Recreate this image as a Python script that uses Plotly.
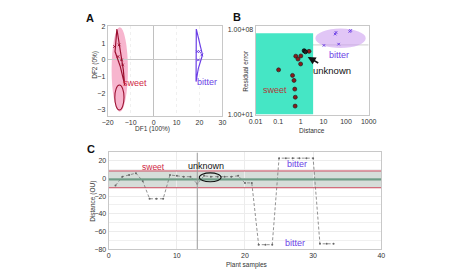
import plotly.graph_objects as go

FONT = "Liberation Sans, Arial, sans-serif"
RED = "#d02a46"
PURPLE = "#6b3fe6"
W, H = 474, 279

# ---------- Panel A data ----------
sweet_poly_x = [-16, -14.8, -13.2, -12.6, -14.5, -16.8, -16]
sweet_poly_y = [1.85, 0.7, -0.6, -1.5, -0.4, 0.5, 1.85]
sweet_pts_x = [-17, -15, -15.5, -14, -13.5]
sweet_pts_y = [0.8, 0.9, 0.2, 0.0, -0.3]
bitter_poly_x = [18.6, 20.2, 21.3, 19.5, 18.5, 18.6]
bitter_poly_y = [1.85, 1.0, 0.3, -0.5, -1.3, 1.85]
bitter_pts_x = [19, 20, 19.5, 21]
bitter_pts_y = [0.5, 0.5, 0.0, 0.3]

# ---------- Panel B data ----------
sweet_dist = [0.104, 0.6, 0.75, 1.0, 0.98, 2.3, 0.43, 0.5, 0.54, 0.57, 0.56]
sweet_err = [4.9e4, 6.6e5, 3.8e5, 6.9e5, 1.5e5, 1.66e6, 1.7e4, 6.6e3, 1.26e3, 2.7e2, 50]
unknown_dist = [1.4, 1.6]
unknown_err = [1.86e6, 1.5e6]
bitter_dist = [10.5, 33, 36, 47, 146, 160]
bitter_err = [5.1e6, 4.4e7, 6.0e7, 6.5e6, 7.2e7, 8.7e7]

# ---------- Panel C data ----------
samples = list(range(1, 34))
distance = [-8, 2, 4, 6, -3, -23, -23, -23, 4, 3, 2, 2, -6, 3, 2, 2, 2, 2, 3, -5, -5,
            -75, -75, -75, 23, 23, 23, 23, 23, 23, -74, -74, -74]
band_upper, band_lower, band_center = 8.5, -10.5, -1

fig = go.Figure()

# Panel A traces
fig.add_trace(go.Scatter(x=sweet_poly_x, y=sweet_poly_y, mode="lines",
                         line=dict(color="#9b1030", width=1.2), xaxis="x", yaxis="y"))
fig.add_trace(go.Scatter(x=sweet_pts_x, y=sweet_pts_y, mode="markers",
                         marker=dict(color="#9b1030", size=2.5, symbol="x-thin",
                                     line=dict(color="#9b1030", width=1)), xaxis="x", yaxis="y"))
fig.add_trace(go.Scatter(x=bitter_poly_x, y=bitter_poly_y, mode="lines",
                         line=dict(color=PURPLE, width=1.2), xaxis="x", yaxis="y"))
fig.add_trace(go.Scatter(x=bitter_pts_x, y=bitter_pts_y, mode="markers",
                         marker=dict(color=PURPLE, size=2.5, symbol="x-thin",
                                     line=dict(color=PURPLE, width=1)), xaxis="x", yaxis="y"))

# Panel B traces
fig.add_trace(go.Scatter(x=sweet_dist, y=sweet_err, mode="markers",
                         marker=dict(color="#8c1a1a", size=4, line=dict(color="#222", width=0.7)),
                         xaxis="x2", yaxis="y2"))
fig.add_trace(go.Scatter(x=unknown_dist, y=unknown_err, mode="markers",
                         marker=dict(color="#222", size=4, line=dict(color="#000", width=0.7)),
                         xaxis="x2", yaxis="y2"))
fig.add_trace(go.Scatter(x=bitter_dist, y=bitter_err, mode="markers",
                         marker=dict(color=PURPLE, size=2.5, symbol="x-thin",
                                     line=dict(color=PURPLE, width=1)),
                         xaxis="x2", yaxis="y2"))

# Panel C trace
fig.add_trace(go.Scatter(x=samples, y=distance, mode="lines+markers",
                         line=dict(color="#777", width=0.8, dash="3px,2px"),
                         marker=dict(color="#666", size=2),
                         xaxis="x3", yaxis="y3"))

shapes = [
    # Panel A
    dict(type="circle", xref="x", yref="y", x0=-18.3, x1=-11.2, y0=-3.1, y1=1.95,
         fillcolor="rgba(240,120,165,0.55)", line=dict(width=0), layer="below"),
    dict(type="circle", xref="x", yref="y", x0=-16.9, x1=-12.9, y0=-3.0, y1=-1.5,
         line=dict(color="#9b1030", width=1.1)),
    # Panel B
    dict(type="line", xref="x2", yref="y2", x0=0.01, x1=1000, y0=5.6e6, y1=5.6e6,
         line=dict(color="#cfcfcf", width=1), layer="below"),
    dict(type="rect", xref="x2", yref="y2", x0=0.01, x1=3.5, y0=10, y1=5.2e7,
         fillcolor="#45e6c5", line=dict(width=0), layer="below"),
    dict(type="circle", xref="x2", yref="y2", x0=4.4, x1=740, y0=3.1e6, y1=1.26e8,
         fillcolor="rgba(205,160,240,0.6)", line=dict(width=0), layer="below"),
    # Panel C
    dict(type="rect", xref="x3", yref="y3", x0=0, x1=40, y0=band_lower, y1=band_upper,
         fillcolor="#d6ddd9", line=dict(width=0), layer="below"),
    dict(type="line", xref="x3", yref="y3", x0=0, x1=40, y0=band_upper, y1=band_upper,
         line=dict(color="#c8465a", width=1)),
    dict(type="line", xref="x3", yref="y3", x0=0, x1=40, y0=band_lower, y1=band_lower,
         line=dict(color="#c8465a", width=1)),
    dict(type="line", xref="x3", yref="y3", x0=0, x1=40, y0=band_center, y1=band_center,
         line=dict(color="#6f9c86", width=2.2)),
    dict(type="line", xref="x3", yref="y3", x0=13, x1=13, y0=-80, y1=29.5,
         line=dict(color="#9a9a9a", width=1)),
    dict(type="circle", xref="x3", yref="y3", x0=13.3, x1=16.5, y0=-3.7, y1=6.3,
         line=dict(color="#111", width=1.1)),
]

def px2paper(px, py):
    return px / W, 1 - py / H

annotations = []

def add_text(text, px, py, size=7, color="#333", angle=0, bold=False):
    x, y = px2paper(px, py)
    annotations.append(dict(text=f"<b>{text}</b>" if bold else text, x=x, y=y,
                            xref="paper", yref="paper", showarrow=False,
                            font=dict(size=size, color=color, family=FONT),
                            textangle=angle, xanchor="center", yanchor="middle"))

add_text("A", 86, 15, 11, "#111", bold=True)
add_text("B", 238, 14, 11, "#111", bold=True)
add_text("C", 87, 149, 11, "#111", bold=True)
add_text("DF2 (0%)", 90, 63, 6.5, "#333", angle=-90)
add_text("DF1 (100%)", 150, 129, 6.5, "#333")
add_text("Residual error", 246, 69, 6.5, "#333", angle=-90)
add_text("Distance", 315, 130, 6.5, "#333")
add_text("Distance (OU)", 88, 203, 6.5, "#333", angle=-90)
add_text("Plant samples", 248, 268, 6.5, "#333")

# in-plot labels
annotations += [
    dict(text="sweet", x=-8.2, y=-1.36, xref="x", yref="y", showarrow=False,
         font=dict(size=9, color=RED, family=FONT)),
    dict(text="bitter", x=23.2, y=-1.34, xref="x", yref="y", showarrow=False,
         font=dict(size=9, color=PURPLE, family=FONT)),
    dict(text="bitter", x=1.685, y=5.9, xref="x2", yref="y2", showarrow=False,
         font=dict(size=9, color=PURPLE, family=FONT)),
    dict(text="sweet", x=-1.14, y=3.0, xref="x2", yref="y2", showarrow=False,
         font=dict(size=9, color="#b03a3a", family=FONT)),
    dict(text="unknown", x=1.40, y=4.63, xref="x2", yref="y2", showarrow=False,
         font=dict(size=9.5, color="#111", family=FONT)),
    dict(text="", x=0.305, y=5.76, xref="x2", yref="y2", showarrow=True,
         ax=12, ay=7, arrowhead=2, arrowsize=1, arrowwidth=1.6, arrowcolor="#111"),
    dict(text="sweet", x=6.6, y=12.6, xref="x3", yref="y3", showarrow=False,
         font=dict(size=8.5, color=RED, family=FONT)),
    dict(text="unknown", x=14.3, y=14.4, xref="x3", yref="y3", showarrow=False,
         font=dict(size=9, color="#111", family=FONT)),
    dict(text="bitter", x=27.7, y=16.7, xref="x3", yref="y3", showarrow=False,
         font=dict(size=9, color=PURPLE, family=FONT)),
    dict(text="bitter", x=27.4, y=-73.3, xref="x3", yref="y3", showarrow=False,
         font=dict(size=9, color=PURPLE, family=FONT)),
]

tickfont = dict(size=7, color="#333", family=FONT)
frame = dict(showline=True, mirror=True, linecolor="#c8c8c8", linewidth=1,
             ticks="", tickfont=tickfont)

fig.update_layout(
    width=W, height=H, margin=dict(l=0, r=0, t=0, b=0),
    paper_bgcolor="white", plot_bgcolor="white", showlegend=False,
    font=dict(family=FONT),
    shapes=shapes, annotations=annotations,
    xaxis=dict(domain=[104 / W, 222.5 / W], range=[-20, 30], tickvals=[-20, -10, 0, 10, 20, 30],
               showgrid=True, gridcolor="#f0f0f0", griddash="dot",
               zeroline=True, zerolinecolor="#c0c0c0", zerolinewidth=1,
               anchor="y", **frame),
    yaxis=dict(domain=[1 - 115 / H, 1 - 23 / H], range=[-3.33, 2.06], tickvals=[-3, -2, -1, 0, 1, 2],
               showgrid=False, zeroline=True, zerolinecolor="#c8c8c8", zerolinewidth=1,
               anchor="x", **frame),
    xaxis2=dict(domain=[256.7 / W, 373.5 / W], type="log", range=[-2, 3],
                tickvals=[0.01, 0.1, 1, 10, 100, 1000],
                ticktext=["0.01", "0.1", "1", "10", "100", "1000"],
                showgrid=False, zeroline=False, anchor="y2", **frame),
    yaxis2=dict(domain=[1 - 114 / H, 1 - 24 / H], type="log", range=[1, 8.27],
                tickvals=[10, 1e8], ticktext=["1.00+01", "1.00+08"],
                showgrid=False, zeroline=False, anchor="x2", **frame),
    xaxis3=dict(domain=[105 / W, 386.5 / W], range=[0, 40], tickvals=[0, 10, 20, 30, 40],
                showgrid=True, gridcolor="#ececec", zeroline=False, anchor="y3", **frame),
    yaxis3=dict(domain=[1 - 251.5 / H, 1 - 152.7 / H], range=[-80, 29.5],
                tickvals=[-80, -60, -40, -20, 0, 20],
                showgrid=True, gridcolor="#ececec",
                minor=dict(dtick=10, showgrid=True, gridcolor="#f0f0f0"),
                zeroline=False, anchor="x3", **frame),
)

fig.write_html("out.html")
